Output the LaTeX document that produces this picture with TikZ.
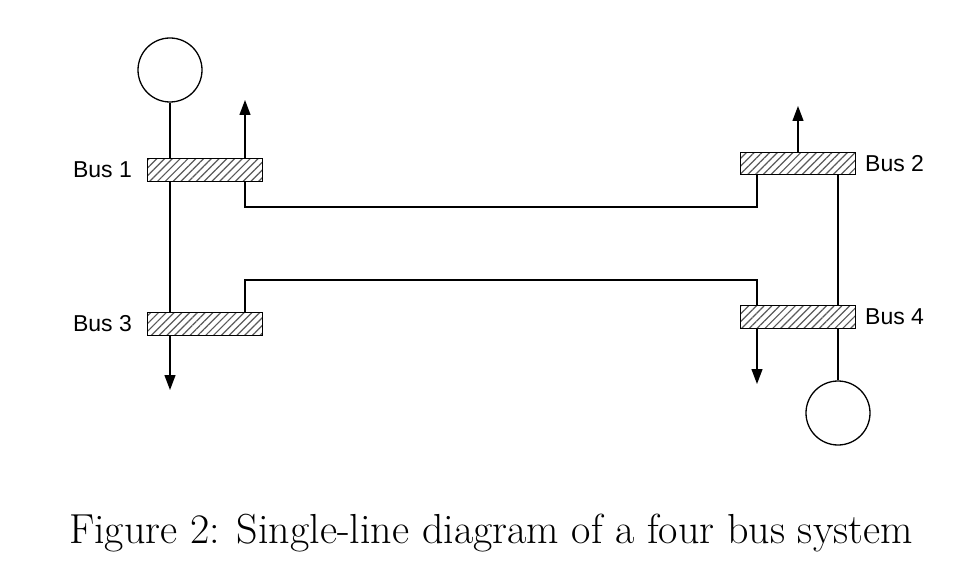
\documentclass[tikz,border=0pt]{standalone}
\usepackage{fontspec}
\newfontfamily\arial{Liberation Sans}
\usetikzlibrary{patterns.meta,arrows.meta}
\begin{document}
\begin{tikzpicture}[x=1pt,y=-1pt,line width=1.3pt,
  busbar/.style={draw,pattern={Lines[angle=45,distance=5.5pt,line width=1.2pt]},pattern color=black!65,line width=1pt},
  lbl/.style={font=\arial\fontsize{23}{26}\selectfont,inner sep=0pt},
  gen/.style={draw,circle,minimum size=64pt,inner sep=0pt},
  ld/.style={-{Triangle[length=15pt,width=11pt]}}]
\useasboundingbox (0,0) rectangle (980,580);
\node[busbar,minimum width=115pt,minimum height=23pt,inner sep=0pt] (b1) at (204.5,170) {};
\node[busbar,minimum width=115pt,minimum height=22pt,inner sep=0pt] (b2) at (797.5,164) {};
\node[busbar,minimum width=115pt,minimum height=23pt,inner sep=0pt] (b3) at (204.5,323.5) {};
\node[busbar,minimum width=115pt,minimum height=23pt,inner sep=0pt] (b4) at (797.5,316.5) {};
\node[lbl,anchor=east,xshift=-14pt] (l1) at (b1.west) {Bus 1};
\node[lbl,anchor=west,xshift=9pt] (l2) at (b2.east) {Bus 2};
\node[lbl,anchor=east,xshift=-14pt] (l3) at (b3.west) {Bus 3};
\node[lbl,anchor=west,xshift=9pt] (l4) at (b4.east) {Bus 4};
\node[gen] (g1) at (170,70) {};
\node[gen] (g4) at (838,413) {};
\coordinate (a1) at (245,100);
\coordinate (a2) at (798,106);
\coordinate (a3) at (170,390);
\coordinate (a4) at (757,384);
\draw (g1.south) -- (170,158);
\draw (170,182) -- (170,312);
\draw[ld] (170,335) -- (a3);
\draw[ld] (245,158) -- (a1);
\draw[ld] (798,153) -- (a2);
\draw[ld] (757,328) -- (a4);
\draw (245,182) -- (245,207) -- (757,207) -- (757,175);
\draw (245,312) -- (245,280) -- (757,280) -- (757,305);
\draw (838,175) -- (838,305);
\draw (838,328) -- (g4.north);
\node[font=\fontsize{42}{48}\selectfont] (cap) at (491,533) {Figure 2: Single-line diagram of a four bus system};
\end{tikzpicture}
\end{document}
